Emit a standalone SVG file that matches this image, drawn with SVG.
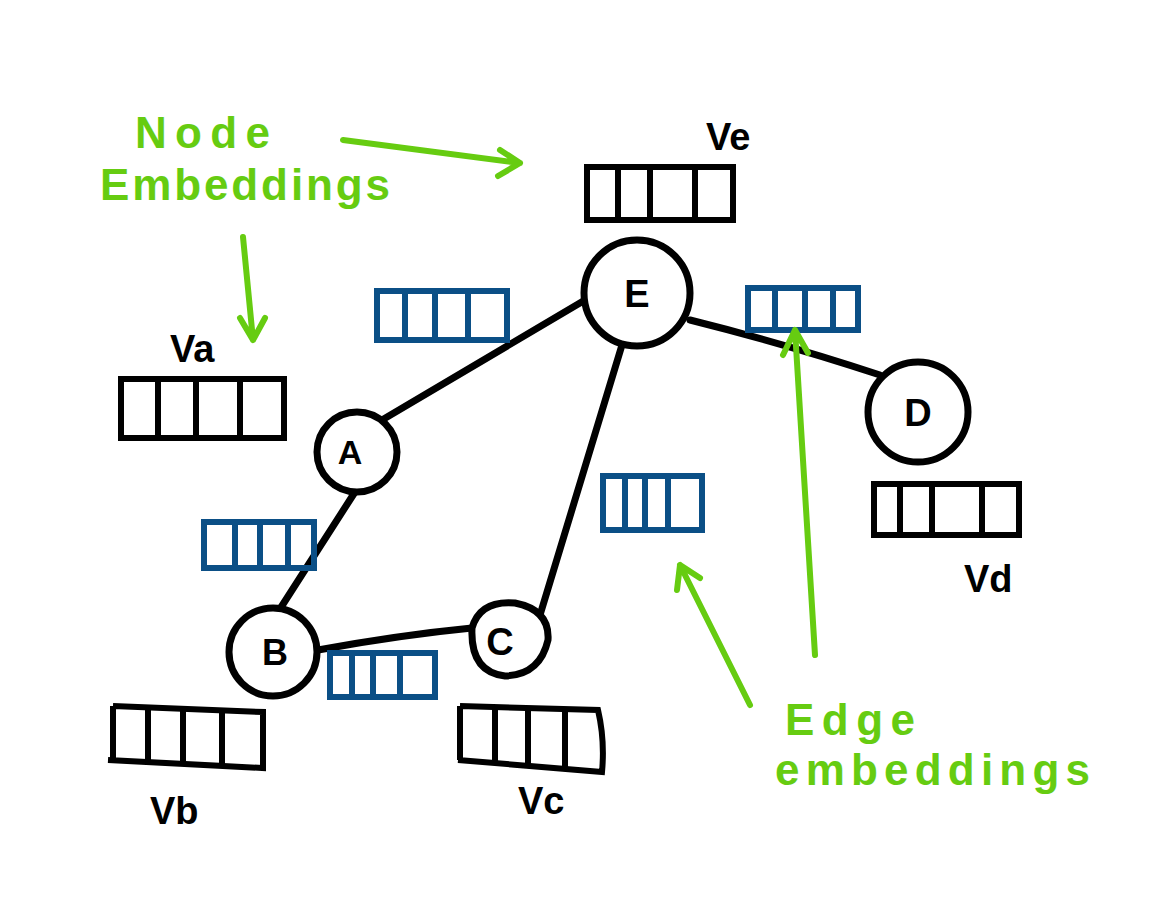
<svg xmlns="http://www.w3.org/2000/svg" width="1160" height="916" viewBox="0 0 1160 916">
<style>
.n{fill:#fff;stroke:#000;stroke-width:7}
.v{fill:none;stroke:#000;stroke-width:6}
.b{fill:none;stroke:#0b4f86;stroke-width:6}
.e{fill:none;stroke:#000;stroke-width:7;stroke-linecap:round}
.g{fill:none;stroke:#66cc11;stroke-width:6;stroke-linecap:round;stroke-linejoin:round}
.t{font-family:"Liberation Sans",sans-serif;font-weight:bold;fill:#000}
.gt{font-family:"Liberation Sans",sans-serif;font-weight:bold;fill:#66cc11;font-size:44px}
</style>
<rect width="1160" height="916" fill="#fff"/>
<g id="connectors">
<path class="e" d="M382 420 L585 300"/>
<path class="e" d="M622 345 L540 615"/>
<path class="e" d="M690 320 Q790 345 880 375"/>
<path class="e" d="M355 492 L278 612"/>
<path class="e" d="M318 650 Q400 635 472 628"/>
</g>
<g id="nodeE"><circle class="n" cx="637" cy="293" r="53"/><text class="t" x="637" y="307" font-size="38" text-anchor="middle">E</text></g>
<g id="nodeA"><circle class="n" cx="357" cy="452" r="40"/><text class="t" x="350" y="464" font-size="34" text-anchor="middle">A</text></g>
<g id="nodeD"><circle class="n" cx="918" cy="412" r="50"/><text class="t" x="918" y="426" font-size="38" text-anchor="middle">D</text></g>
<g id="nodeB"><circle class="n" cx="273" cy="652" r="44"/><text class="t" x="275" y="665" font-size="36" text-anchor="middle">B</text></g>
<g id="nodeC"><path class="n" d="M472 628 Q480 600 515 603 Q550 610 548 640 Q540 675 505 676 Q470 672 472 628 Z"/><text class="t" x="500" y="655" font-size="38" text-anchor="middle">C</text></g>
<g id="vecE"><rect class="v" x="587" y="167" width="146" height="53"/><path class="v" d="M618 167V220M650 167V220M695 167V220"/><text class="t" x="706" y="150" font-size="38">Ve</text></g>
<g id="vecA"><rect class="v" x="121" y="379" width="163" height="59"/><path class="v" d="M158 379V438M196 379V438M240 379V438"/><text class="t" x="170" y="362" font-size="38">Va</text></g>
<g id="vecD"><rect class="v" x="874" y="484" width="145" height="51"/><path class="v" d="M900 484V535M932 484V535M982 484V535"/><text class="t" x="964" y="592" font-size="38">Vd</text></g>
<g id="vecB"><path class="v" d="M113 706 L263 712 L263 768 L108 760 M113 706 V760"/><path class="v" d="M148 708V762M183 709V764M222 710V766"/><text class="t" x="150" y="824" font-size="38">Vb</text></g>
<g id="vecC"><path class="v" d="M460 706 L598 710 Q605 740 602 772 L458 760 M460 706 V760"/><path class="v" d="M495 707V762M528 708V765M565 709V768"/><text class="t" x="518" y="814" font-size="38">Vc</text></g>
<g id="edgeAE"><rect class="b" x="377" y="291" width="130" height="49"/><path class="b" d="M405 291V340M435 291V340M468 291V340"/></g>
<g id="edgeED"><rect class="b" x="748" y="288" width="110" height="42"/><path class="b" d="M775 288V330M805 288V330M833 288V330"/></g>
<g id="edgeEC"><rect class="b" x="603" y="476" width="99" height="54"/><path class="b" d="M625 476V530M645 476V530M668 476V530"/></g>
<g id="edgeAB"><rect class="b" x="204" y="522" width="110" height="46"/><path class="b" d="M235 522V568M260 522V568M288 522V568"/></g>
<g id="edgeBC"><rect class="b" x="330" y="653" width="105" height="44"/><path class="b" d="M352 653V697M373 653V697M400 653V697"/></g>
<g id="labels">
<text class="gt" x="135" y="148" textLength="135">Node</text>
<text class="gt" x="100" y="200" textLength="290">Embeddings</text>
<text class="gt" x="785" y="735" textLength="130">Edge</text>
<text class="gt" x="775" y="785" textLength="315">embeddings</text>
</g>
<g id="arrows">
<path class="g" d="M343 140 L520 163 M500 150 L520 163 L498 176"/>
<path class="g" d="M243 237 L253 340 M240 318 L253 340 L265 318"/>
<path class="g" d="M750 705 L680 565 M677 590 L680 565 L700 578"/>
<path class="g" d="M815 655 L795 330 M783 355 L795 330 L808 353"/>
</g>
</svg>
